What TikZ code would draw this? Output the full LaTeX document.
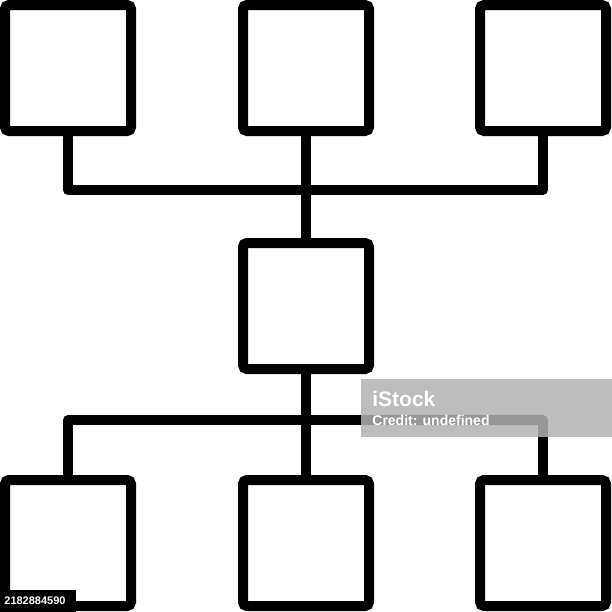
\documentclass[tikz,border=0pt]{standalone}
\usepackage{fontspec}
\setmainfont{Liberation Sans}
\begin{document}
\begin{tikzpicture}[x=0.5pt,y=-0.5pt,
  box/.style={draw=black,line width=5pt,rounded corners=2pt,fill=white,minimum width=63pt,minimum height=63pt,inner sep=0pt,outer sep=0pt},
  link/.style={draw=black,line width=5pt,line join=round}]
\useasboundingbox (0,0) rectangle (612,612);
\fill[white] (0,0) rectangle (612,612);
% connectors
\coordinate (tl) at (68,190);
\coordinate (tr) at (543,190);
\coordinate (bl) at (68,420);
\coordinate (br) at (543,420);
% boxes
\node[box] (a1) at (68,68) {};
\node[box] (a2) at (306,68) {};
\node[box] (a3) at (543,68) {};
\node[box] (m) at (306,306) {};
\node[box] (b1) at (68,543) {};
\node[box] (b2) at (306,543) {};
\node[box] (b3) at (543,543) {};
\draw[link] (a1.south) -- (tl) -- (tr) -- (a3.south);
\draw[link] (a2.south) -- (m.north);
\draw[link] (m.south) -- (b2.north);
\draw[link] (b1.north) -- (bl) -- (br) -- (b3.north);
% watermark
\fill[gray!60,opacity=0.85] (361,379) rectangle (612,437);
\node[anchor=west,text=white,inner sep=0pt,font=\fontsize{10.5pt}{11pt}\selectfont\bfseries] (ist) at (372,399) {iStock};
\node[anchor=west,text=white,inner sep=0pt,font=\fontsize{7pt}{7.5pt}\selectfont\bfseries] (cr) at (372,420) {Credit: undefined};
\fill[black] (0,590) rectangle (76,612);
\node[anchor=west,text=white,inner sep=0pt,font=\fontsize{5.5pt}{6pt}\selectfont\bfseries] (id) at (4,601) {2182884590};
\end{tikzpicture}
\end{document}
